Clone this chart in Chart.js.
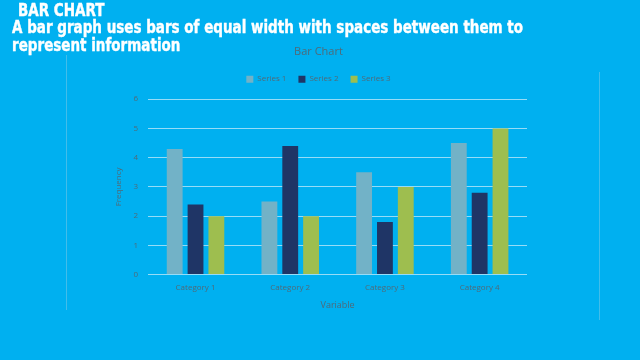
<!DOCTYPE html>
<html>
<head>
<meta charset="utf-8">
<script src="https://cdn.jsdelivr.net/npm/chart.js@4/dist/chart.umd.min.js"></script>
<style>
  html, body { margin: 0; padding: 0; background: #00b0f0; }
  #wrap { position: relative; width: 640px; height: 360px; overflow: hidden; background: #00b0f0; }
  canvas { position: absolute; left: 0; top: 0; }
  .hdr { position: absolute; color: #ffffff; font-family: "Liberation Sans Narrow", "DejaVu Sans Condensed", sans-serif; font-weight: bold; white-space: nowrap; -webkit-text-stroke: 0.35px #ffffff; transform: scaleY(1.12); transform-origin: 0 0; }
  .vline { position: absolute; width: 1px; background: rgba(120, 200, 230, 0.55); }
</style>
</head>
<body>
<div id="wrap">
  <div class="vline" style="left:66px; top:55px; height:255px;"></div>
  <div class="vline" style="left:599px; top:72px; height:248px;"></div>
  <canvas id="c" width="640" height="360"></canvas>
  <div class="hdr" style="left:18px; top:0px; font-size:15px;">BAR CHART</div>
  <div class="hdr" style="left:12px; top:20px; font-size:15px; line-height:15.5px;">A bar graph uses bars of equal width with spaces between them to<br>represent information</div>
</div>
<script>
const categories = ["Category 1", "Category 2", "Category 3", "Category 4"];
const series1 = [4.3, 2.5, 3.5, 4.5];
const series2 = [2.4, 4.4, 1.8, 2.8];
const series3 = [2.0, 2.0, 3.0, 5.0];
const seriesNames = ["Series 1", "Series 2", "Series 3"];
const yTicks = [0, 1, 2, 3, 4, 5, 6];

const textColor = "#4f6a78";
const fontFam = "'Open Sans', 'Noto Sans', sans-serif";

const legendMargin = {
  id: "legendMargin",
  beforeInit(chart) {
    const origFit = chart.legend.fit;
    chart.legend.fit = function () {
      origFit.bind(chart.legend)();
      this.height += 6;
    };
  }
};

new Chart(document.getElementById("c"), {
  type: "bar",
  data: {
    labels: categories,
    datasets: [
      { label: seriesNames[0], data: series1, backgroundColor: "#72b2c7" },
      { label: seriesNames[1], data: series2, backgroundColor: "#1f3566" },
      { label: seriesNames[2], data: series3, backgroundColor: "#9ebe4f" }
    ]
  },
  plugins: [legendMargin],
  options: {
    responsive: false,
    animation: false,
    layout: { padding: { left: 110, right: 113, top: 45, bottom: 45 } },
    datasets: { bar: { categoryPercentage: 0.66, barPercentage: 0.76 } },
    plugins: {
      title: {
        display: true, text: "Bar Chart", color: textColor,
        font: { family: fontFam, size: 11, weight: "normal" }, padding: { top: 0, bottom: 5 }
      },
      legend: {
        display: true, position: "top",
        labels: {
          color: textColor, font: { family: fontFam, size: 8 },
          boxWidth: 7, boxHeight: 7, padding: 12
        }
      },
      tooltip: { enabled: false }
    },
    scales: {
      x: {
        grid: { display: false },
        border: { display: false },
        ticks: { color: textColor, font: { family: fontFam, size: 8 }, padding: 0 },
        title: { display: true, text: "Variable", color: textColor, font: { family: fontFam, size: 9 }, padding: { top: 8 } }
      },
      y: {
        min: yTicks[0], max: yTicks[yTicks.length - 1],
        afterBuildTicks: (axis) => { axis.ticks = yTicks.map(v => ({ value: v })); },
        grid: { color: "rgba(200, 235, 250, 0.75)", drawTicks: false, lineWidth: 1 },
        border: { display: false },
        ticks: { color: textColor, font: { family: fontFam, size: 8 }, padding: 10 },
        title: { display: true, text: "Frequency", color: textColor, font: { family: fontFam, size: 8 }, padding: { bottom: 0 } }
      }
    }
  }
});
</script>
</body>
</html>
